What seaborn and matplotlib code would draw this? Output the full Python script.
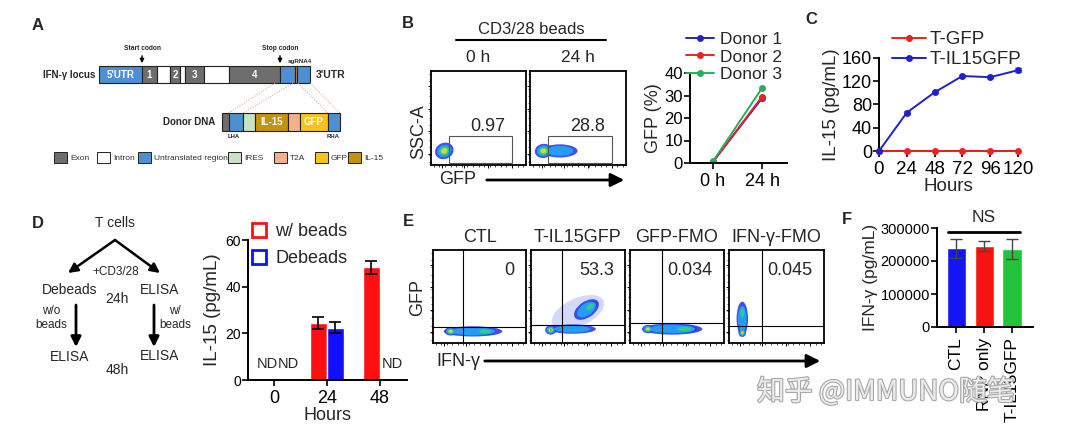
import numpy as np
import pandas as pd
import matplotlib
matplotlib.use("Agg")
import matplotlib.pyplot as plt
import matplotlib.patheffects as pe
from matplotlib.patches import Rectangle, Ellipse
from matplotlib.lines import Line2D
import seaborn as sns

W, H = 1080, 432

# ---------------- data ----------------
# B: GFP % per donor, 0 h vs 24 h
donors = ["Donor 1", "Donor 2", "Donor 3"]
donor_colors = ["#2323c8", "#ee2020", "#22b060"]
b_time_pos = [0, 1]
b_time_labels = ["0 h", "24 h"]
gfp_d1 = [0.6, 28.8]
gfp_d2 = [0.5, 29.5]
gfp_d3 = [0.8, 33.3]
b_titles = ["0 h", "24 h"]
b_gate_values = ["0.97", "28.8"]

# C: IL-15 secretion over time
c_hours = [0, 24, 48, 72, 96, 120]
il15_tgfp = [0, 0, 0, 0, 0, 0]
il15_til15 = [0, 66, 101, 129, 127, 139]
il15_til15_err = [0, 2, 2, 2, 2, 3]

# D: with / without beads
d_hours = ["0", "24", "48"]
d_beads = [np.nan, 24.5, 48.3]
d_beads_err = [0, 2.6, 2.8]
d_debeads = [np.nan, 22.5, np.nan]
d_debeads_err = [0, 2.4, 0]

# E: IFN-g vs GFP flow plots
e_titles = ["CTL", "T-IL15GFP", "GFP-FMO", "IFN-γ-FMO"]
e_values = ["0", "53.3", "0.034", "0.045"]
e_quad_x = [0.32, 0.33, 0.34, 0.35]
e_quad_y = [0.17, 0.19, 0.22, 0.18]

# F: IFN-g secretion
f_groups = ["CTL", "RNP only", "T-IL15GFP"]
f_ifng = [238000, 245000, 237000]
f_ifng_err = [28000, 16000, 30000]
f_colors = ["#1414f5", "#f51414", "#22c43c"]

# flow clouds: (x, y, width, height, angle, peak level) in axes fractions
b_clouds = [
    [(0.14, 0.15, 0.20, 0.17, 25, 3)],
    [(0.31, 0.15, 0.37, 0.14, 0, 1), (0.14, 0.15, 0.18, 0.15, 10, 3)],
]
e_clouds = [
    [(0.43, 0.125, 0.63, 0.11, 0, 1), (0.19, 0.125, 0.13, 0.09, 0, 3), (0.56, 0.125, 0.23, 0.08, 0, 2)],
    [(0.50, 0.33, 0.60, 0.30, 25, 0), (0.44, 0.15, 0.5, 0.10, 0, 1),
     (0.59, 0.36, 0.30, 0.17, 35, 1), (0.63, 0.39, 0.17, 0.10, 35, 2), (0.21, 0.14, 0.12, 0.10, 0, 4)],
    [(0.45, 0.15, 0.64, 0.12, 0, 1), (0.19, 0.15, 0.12, 0.09, 0, 3), (0.58, 0.15, 0.27, 0.09, 0, 2)],
    [(0.14, 0.26, 0.12, 0.37, 0, 1), (0.14, 0.32, 0.07, 0.18, 0, 2), (0.14, 0.11, 0.08, 0.09, 0, 3)],
]
jet_levels = ["#2a3cf0", "#20a8f0", "#34d27a", "#e0e028", "#e65020"]
level_scale = [1.0, 0.76, 0.52, 0.34, 0.18]

# ---------------- style ----------------
sns.set_style("ticks")
plt.rcParams["font.family"] = ["Liberation Sans", "Noto Sans CJK SC", "DejaVu Sans"]
plt.rcParams["axes.linewidth"] = 1.4
plt.rcParams["xtick.major.width"] = 1.2
plt.rcParams["ytick.major.width"] = 1.2
plt.rcParams["xtick.major.size"] = 4
plt.rcParams["ytick.major.size"] = 4
plt.rcParams["xtick.color"] = "black"
plt.rcParams["ytick.color"] = "black"
plt.rcParams["axes.edgecolor"] = "black"

fig = plt.figure(figsize=(W / 100, H / 100), dpi=100)


def ax_px(x0, y0, x1, y1):
    return fig.add_axes([x0 / W, 1 - y1 / H, (x1 - x0) / W, (y1 - y0) / H])


ov = fig.add_axes([0, 0, 1, 1])
ov.set_xlim(0, W)
ov.set_ylim(H, 0)
ov.axis("off")
ov.set_zorder(10)


def draw_cloud(ax, blobs):
    for lvl in range(5):
        for cx, cy, w, h, ang, peak in blobs:
            if lvl > peak:
                continue
            s = level_scale[lvl]
            if peak == 0:
                col, alpha = "#8592f2", 0.35
            else:
                col, alpha = jet_levels[lvl], 0.9
            ax.add_patch(Ellipse((cx, cy), w * s, h * s, angle=ang, color=col, lw=0, alpha=alpha))


def flow_box(ax):
    ax.set_xlim(0, 1)
    ax.set_ylim(0, 1)
    for s in ax.spines.values():
        s.set_linewidth(1.3)
    ax.set_xticks([0.12, 0.35, 0.6, 0.85])
    ax.set_yticks([0.12, 0.36, 0.6, 0.84])
    ax.set_xticks(np.linspace(0.03, 0.97, 17), minor=True)
    ax.set_yticks(np.linspace(0.03, 0.97, 13), minor=True)
    ax.tick_params(which="major", length=2.5, width=0.7, labelleft=False, labelbottom=False)
    ax.tick_params(which="minor", length=1.5, width=0.5)


# ---------------- panel letters ----------------
for lab, x, y in [("A", 38, 25), ("B", 408, 23), ("C", 811, 20), ("D", 38, 223), ("E", 408, 221), ("F", 847, 220)]:
    ov.text(x, y, lab, fontsize=12, fontweight="bold", ha="center", va="center")

# ---------------- panel A: gene diagram ----------------
blue_u = "#4d8fd2"
grey_e = "#6e6e6e"
locus = [(99, 142, blue_u, "5'UTR"), (142, 157, grey_e, "1"), (157, 170, "white", ""),
         (170, 180, grey_e, "2"), (180, 185, "white", ""), (185, 204, grey_e, "3"),
         (204, 229, "white", ""), (229, 280, grey_e, "4"), (280, 295, blue_u, ""),
         (295, 297, "#e07a3a", ""), (297, 310, blue_u, "")]
for x0, x1, c, t in locus:
    ov.add_patch(Rectangle((x0, 66), x1 - x0, 17, facecolor=c, edgecolor="#222", lw=0.8))
    if t:
        ov.text((x0 + x1) / 2, 75, t, color="white", fontsize=7, fontweight="bold", ha="center", va="center")
ov.text(95, 75, "IFN-γ locus", fontsize=7, fontweight="bold", ha="right", va="center")
ov.text(316, 75, "3'UTR", fontsize=7.5, fontweight="bold", ha="left", va="center")
ov.text(142, 49, "Start codon", fontsize=4.8, fontweight="bold", ha="center", va="center")
ov.text(280, 49, "Stop codon", fontsize=4.8, fontweight="bold", ha="center", va="center")
ov.text(300, 61, "sgRNA4", fontsize=4.5, fontweight="bold", ha="center", va="center")
for xa in (142, 280):
    ov.annotate("", xy=(xa, 66), xytext=(xa, 53),
                arrowprops=dict(arrowstyle="-|>", lw=1.0, color="k", mutation_scale=6))
donor = [(222, 229, grey_e, ""), (229, 243, blue_u, ""), (243, 255, "#c9e2c2", ""),
         (255, 288, "#c3930e", "IL-15"), (288, 300, "#f2b08f", ""), (300, 328, "#f7c21a", "GFP"),
         (328, 340, blue_u, "")]
for x0, x1, c, t in donor:
    ov.add_patch(Rectangle((x0, 113), x1 - x0, 18, facecolor=c, edgecolor="#222", lw=0.8))
    if t:
        ov.text((x0 + x1) / 2, 122, t, color="white", fontsize=7, fontweight="bold", ha="center", va="center")
ov.text(215, 122, "Donor DNA", fontsize=7, fontweight="bold", ha="right", va="center")
ov.text(234, 137, "LHA", fontsize=4.3, fontweight="bold", ha="center", va="center")
ov.text(333, 137, "RHA", fontsize=4.3, fontweight="bold", ha="center", va="center")
for (xa, xb) in [(275, 229), (293, 243), (298, 328), (310, 340)]:
    ov.plot([xa, xb], [83, 113], ls=":", lw=0.7, color="#d89a80")
legend_a = [(54, grey_e, "Exon"), (97, "white", "Intron"), (138, blue_u, "Untranslated region"),
            (228, "#c9e2c2", "IRES"), (274, "#f2b08f", "T2A"), (315, "#f7c21a", "GFP"), (348, "#c3930e", "IL-15")]
for x0, c, t in legend_a:
    ov.add_patch(Rectangle((x0, 152), 13, 11, facecolor=c, edgecolor="#222", lw=0.7))
    ov.text(x0 + 16, 158, t, fontsize=6, color="#333", ha="left", va="center")

# ---------------- panel B: flow ----------------
ov.text(531, 29, "CD3/28 beads", fontsize=12, ha="center", va="center")
ov.plot([456, 606], [40, 40], color="k", lw=1.5)
b_boxes = [(431, 526), (530, 626)]
for i, (x0, x1) in enumerate(b_boxes):
    ax = ax_px(x0, 71, x1, 165)
    flow_box(ax)
    draw_cloud(ax, b_clouds[i])
    ax.add_patch(Rectangle((0.19, 0.02), 0.66, 0.29, fill=False, edgecolor="#555", lw=0.8))
    ax.text(0.6, 0.41, b_gate_values[i], fontsize=13, ha="center", va="center", transform=ax.transAxes)
    ov.text((x0 + x1) / 2, 57, b_titles[i], fontsize=12.5, ha="center", va="center")
ov.text(419, 132, "SSC-A", fontsize=13, rotation=90, ha="center", va="center")
ov.text(458, 180, "GFP", fontsize=13, ha="center", va="center")
ov.annotate("", xy=(627, 180), xytext=(484, 180),
            arrowprops=dict(arrowstyle="-|>", lw=2.0, color="k", mutation_scale=20))

# ---------------- panel B: line plot ----------------
axb = ax_px(690, 73, 787, 163)
b_df = pd.DataFrame({
    "time": b_time_pos * 3,
    "gfp": gfp_d1 + gfp_d2 + gfp_d3,
    "donor": [d for d in donors for _ in b_time_pos],
})
sns.lineplot(data=b_df, x="time", y="gfp", hue="donor", palette=donor_colors, marker="o",
             markersize=5, markeredgewidth=0, lw=1.4, ax=axb)
axb.set_xlim(-0.47, 1.51)
axb.set_ylim(0, 40)
axb.set_xticks(b_time_pos)
axb.set_xticklabels(b_time_labels, fontsize=13)
axb.set_yticks([0, 10, 20, 30, 40])
axb.tick_params(axis="y", labelsize=12, pad=1)
axb.set_xlabel("")
axb.set_ylabel("GFP (%)", fontsize=13, labelpad=2)
sns.despine(ax=axb)
axb.legend(frameon=False, fontsize=12.5, loc="upper left", bbox_to_anchor=(686, 32),
           bbox_transform=ov.transData, borderpad=0, borderaxespad=0, labelspacing=0.13,
           handlelength=1.6, handletextpad=0.35)

# ---------------- panel C ----------------
axc = ax_px(879, 58, 1018, 151)
c_df = pd.DataFrame({
    "hours": c_hours * 2,
    "il15": il15_tgfp + il15_til15,
    "group": ["T-GFP"] * len(c_hours) + ["T-IL15GFP"] * len(c_hours),
})
sns.lineplot(data=c_df, x="hours", y="il15", hue="group", palette=["#ee2020", "#2020cc"],
             marker="o", markersize=5, markeredgewidth=0, lw=1.4, ax=axc, clip_on=False, zorder=3)
axc.errorbar(c_hours, il15_til15, yerr=il15_til15_err, fmt="none", ecolor="#2020cc",
             elinewidth=1, capsize=2, clip_on=False)
axc.set_xlim(0, 120)
axc.set_ylim(0, 160)
axc.set_xticks(c_hours)
axc.set_yticks([0, 40, 80, 120, 160])
axc.tick_params(axis="x", labelsize=13.5)
axc.tick_params(axis="y", labelsize=13, pad=1)
axc.set_xlabel("Hours", fontsize=13.5, labelpad=0)
axc.set_ylabel("IL-15 (pg/mL)", fontsize=13.5, labelpad=1)
sns.despine(ax=axc)
axc.legend(frameon=False, fontsize=13.5, loc="upper left", bbox_to_anchor=(892, 31),
           bbox_transform=ov.transData, borderpad=0, borderaxespad=0, labelspacing=0.16,
           handlelength=1.8, handletextpad=0.2)

# ---------------- panel D: scheme ----------------
ov.text(115, 223, "T cells", fontsize=10, ha="center", va="center")
ov.annotate("", xy=(68, 273), xytext=(115, 240),
            arrowprops=dict(arrowstyle="-|>", lw=1.8, color="k", mutation_scale=14, shrinkA=0, shrinkB=0))
ov.annotate("", xy=(160, 273), xytext=(115, 240),
            arrowprops=dict(arrowstyle="-|>", lw=1.8, color="k", mutation_scale=14, shrinkA=0, shrinkB=0))
ov.text(116, 272, "+CD3/28", fontsize=8.5, ha="center", va="center")
ov.text(70, 290, "Debeads", fontsize=10, ha="center", va="center")
ov.text(160, 290, "ELISA", fontsize=10, ha="center", va="center")
ov.text(117, 299, "24h", fontsize=10, ha="center", va="center")
ov.text(51, 318, "w/o\nbeads", fontsize=8.5, ha="center", va="center", linespacing=1.2)
ov.text(175, 318, "w/\nbeads", fontsize=8.5, ha="center", va="center", linespacing=1.2)
for xa in (76, 154):
    ov.annotate("", xy=(xa, 347), xytext=(xa, 305),
                arrowprops=dict(arrowstyle="-|>", lw=2.0, color="k", mutation_scale=15, shrinkA=0, shrinkB=0))
ov.text(70, 357, "ELISA", fontsize=10, ha="center", va="center")
ov.text(160, 356, "ELISA", fontsize=10, ha="center", va="center")
ov.text(117, 370, "48h", fontsize=10, ha="center", va="center")

# ---------------- panel D: bars ----------------
axd = ax_px(248, 240, 407, 380)
d_df = pd.DataFrame({
    "hours": d_hours * 2,
    "il15": d_beads + d_debeads,
    "cond": ["w/ beads"] * 3 + ["Debeads"] * 3,
})
d_err = {"w/ beads": d_beads_err, "Debeads": d_debeads_err}
sns.barplot(data=d_df, x="hours", y="il15", hue="cond", palette=["#ff1010", "#1010ff"],
            width=0.64, errorbar=None, legend=False, saturation=1, ax=axd)
for cont, cond in zip(axd.containers, ["w/ beads", "Debeads"]):
    for bar in cont:
        hgt = bar.get_height()
        if not np.isfinite(hgt) or hgt == 0:
            continue
        xc = bar.get_x() + bar.get_width() / 2
        axd.errorbar(xc, hgt, yerr=d_err[cond][int(round(xc))], fmt="none", ecolor="k",
                     elinewidth=1.2, capsize=4, capthick=1.2)
for xt, lab in [(-0.13, "ND"), (0.27, "ND"), (2.24, "ND")]:
    axd.text(xt, 7, lab, fontsize=10.5, ha="center", va="center")
axd.set_xlim(-0.49, 2.51)
axd.set_ylim(0, 60)
axd.set_yticks([0, 20, 40, 60])
axd.tick_params(axis="y", labelsize=10, pad=1)
axd.tick_params(axis="x", labelsize=13)
axd.set_xlabel("Hours", fontsize=13, labelpad=0)
axd.set_ylabel("IL-15 (pg/mL)", fontsize=13.5, labelpad=3)
sns.despine(ax=axd)
d_handles = [Line2D([], [], ls="none", marker="s", markersize=10, markerfacecolor="white",
                    markeredgecolor=c, markeredgewidth=2) for c in ["#ff1010", "#1010ff"]]
axd.legend(d_handles, ["w/ beads", "Debeads"], frameon=False, fontsize=13, loc="upper left",
           bbox_to_anchor=(250, 223), bbox_transform=ov.transData, borderpad=0, borderaxespad=0,
           labelspacing=0.55, handlelength=1.0, handletextpad=0.4)

# ---------------- panel E ----------------
e_boxes = [(433, 526), (531, 625), (630, 724), (729, 824)]
for i, (x0, x1) in enumerate(e_boxes):
    ax = ax_px(x0, 250, x1, 343)
    flow_box(ax)
    draw_cloud(ax, e_clouds[i])
    ax.axvline(e_quad_x[i], color="k", lw=0.8)
    ax.axhline(e_quad_y[i], color="k", lw=0.8)
    ax.text(0.88, 0.78, e_values[i], fontsize=13, ha="right", va="center", transform=ax.transAxes)
    ov.text((x0 + x1) / 2, 238, e_titles[i], fontsize=13, ha="center", va="center")
ov.text(418, 297, "GFP", fontsize=13, rotation=90, ha="center", va="center")
ov.text(436, 362, "IFN-γ", fontsize=13, ha="left", va="center")
ov.annotate("", xy=(823, 361), xytext=(482, 361),
            arrowprops=dict(arrowstyle="-|>", lw=2.0, color="k", mutation_scale=20))

# ---------------- panel F ----------------
axf = ax_px(937, 228, 1033, 327)
sns.barplot(x=f_groups, y=f_ifng, hue=f_groups, palette=f_colors, width=0.68, errorbar=None,
            legend=False, saturation=1, ax=axf)
axf.errorbar(range(len(f_groups)), f_ifng, yerr=f_ifng_err, fmt="none", ecolor="#444",
             elinewidth=1, capsize=4, capthick=1)
axf.set_xlim(-0.68, 2.75)
axf.set_ylim(0, 300000)
axf.set_yticks([0, 100000, 200000, 300000])
axf.set_yticklabels(["0", "100000", "200000", "300000"])
axf.tick_params(axis="y", labelsize=10.5, pad=1)
axf.tick_params(axis="x", labelsize=12.5, rotation=90)
axf.set_ylabel("IFN-γ (pg/mL)", fontsize=12.5, labelpad=2)
sns.despine(ax=axf)
axf.plot([-0.3, 2.3], [288000, 288000], color="k", lw=2, clip_on=False)
axf.text(1, 310000, "NS", fontsize=12.5, ha="center", va="bottom")

# ---------------- watermark ----------------
ov.text(757, 392, "知乎 @IMMUNO随笔", fontsize=20, color="#ececec", ha="left", va="center",
        family=["Noto Sans CJK SC", "DejaVu Sans"], zorder=20,
        path_effects=[pe.withStroke(linewidth=1.6, foreground="#a8a8a8")])

fig.savefig("out.png", dpi=100)
